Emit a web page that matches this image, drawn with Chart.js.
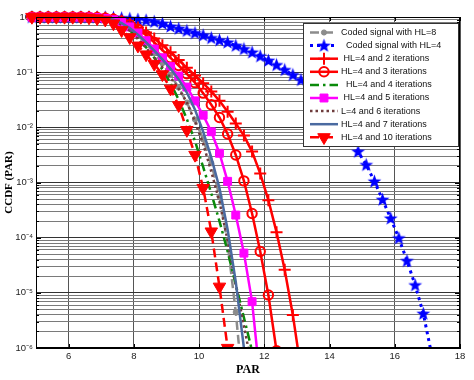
<!DOCTYPE html>
<html>
<head>
<meta charset="utf-8">
<script src="https://cdn.jsdelivr.net/npm/chart.js@4.4.0/dist/chart.umd.min.js"></script>
<style>
html,body{margin:0;padding:0;background:#fff;}
#wrap{width:474px;height:380px;}
canvas{display:block;}
</style>
</head>
<body>
<div id="wrap"><canvas id="c" width="474" height="380"></canvas></div>
<script>
// ---- data ----
const par = [4.875,5.125,5.375,5.625,5.875,6.125,6.375,6.625,6.875,7.125,7.375,7.625,7.875,8.125,8.375,8.625,8.875,9.125,9.375,9.625,9.875,10.125,10.375,10.625,10.875,11.125,11.375,11.625,11.875,12.125,12.375,12.625,12.875,13.125,13.375,13.625,13.875,14.125,14.375,14.625,14.875,15.125,15.375,15.625,15.875,16.125,16.375,16.625,16.875,17.125];

const codedHL8 = [1,1,1,1,1,1,1,1,0.99,0.955,0.891,0.794,0.631,0.468,0.331,0.224,0.145,0.0891,0.0525,0.0282,0.0138,0.00603,0.00224,5.62e-4,7.94e-5,4.47e-6,1.26e-7];
const codedHL4 = [1,1,1,1,1,1,1,1,0.995,0.989,0.977,0.955,0.933,0.902,0.871,0.822,0.759,0.676,0.617,0.562,0.513,0.468,0.417,0.380,0.347,0.302,0.263,0.229,0.195,0.162,0.135,0.110,0.0891,0.0724,0.0550,0.0398,0.0275,0.0182,0.0115,0.00676,0.00363,0.00209,0.00105,4.9e-4,2.24e-4,9.8e-5,3.8e-5,1.38e-5,4.2e-6,7.9e-7];
const iter2 = [1,1,1,1,1,1,1,1,0.99,0.966,0.923,0.851,0.759,0.646,0.525,0.407,0.309,0.229,0.166,0.120,0.0871,0.0631,0.0447,0.0302,0.0191,0.0117,0.00708,0.00363,0.00145,4.79e-4,1.26e-4,2.63e-5,3.98e-6,3.98e-7];
const iter3 = [1,1,1,1,1,1,1,0.993,0.982,0.955,0.912,0.832,0.724,0.603,0.468,0.347,0.251,0.182,0.132,0.0933,0.0646,0.0417,0.0257,0.0151,0.00759,0.00316,0.00107,2.75e-4,5.62e-5,9.12e-6,8.91e-7];
const iter4 = [1,1,1,1,1,1,1,1,0.977,0.944,0.871,0.741,0.575,0.417,0.282,0.182,0.112,0.0631,0.0316,0.0141,0.00562,0.00191,6.31e-4,2.0e-4,5.62e-5,1.41e-5,3.55e-6,8.91e-7];
const iter5 = [1,1,1,1,1,1,1,1,0.977,0.944,0.891,0.794,0.661,0.513,0.372,0.263,0.182,0.126,0.0851,0.0537,0.0302,0.0166,0.00832,0.00339,0.00105,2.57e-4,5.25e-5,6.92e-6,2.51e-7];
const iter6 = [1,1,1,1,1,1,1,1,0.973,0.933,0.851,0.724,0.562,0.398,0.275,0.186,0.123,0.0794,0.0501,0.0282,0.0126,0.00501,0.00158,4.47e-4,8.91e-5,1.41e-5,2.51e-6,4.47e-7];
const iter7 = [1,1,1,1,1,1,1,1,0.982,0.955,0.891,0.776,0.631,0.479,0.347,0.245,0.170,0.115,0.0741,0.0427,0.0209,0.00832,0.00282,7.94e-4,1.41e-4,1.58e-5,1.0e-6];
const iter10 = [1,1,1,1,1,1,1,0.977,0.944,0.891,0.759,0.575,0.427,0.302,0.209,0.141,0.0912,0.0501,0.0251,0.00891,0.00316,7.94e-4,1.29e-4,1.29e-5,1.0e-6];

const seriesLabels = ['Coded signal with HL=8','  Coded signal with HL=4',' HL=4 and 2 iterations','HL=4 and 3 iterations','  HL=4 and 4 iterations',' HL=4 and 5 iterations','L=4 and 6 iterations','HL=4 and 7 iterations','HL=4 and 10 iterations'];
const xTicks = [6,8,10,12,14,16,18];
const yDecades = [1e-6,1e-5,1e-4,1e-3,1e-2,1e-1,1];
const yTickLabels = ['10\u207B\u2076','10\u207B\u2075','10\u207B\u2074','10\u207B\u00B3','10\u207B\u00B2','10\u207B\u00B9','10\u2070'];

// ---- helpers ----
function pts(series){ return series.map((v,k)=>({x:par[k], y:v})); }

// filled five-point star image for the HL=4 markers
const star = document.createElement('canvas');
star.width = 15; star.height = 15;
(function(){
  const c = star.getContext('2d');
  c.fillStyle = '#0000ff';
  c.beginPath();
  for (let i=0;i<10;i++){
    const r = i%2===0 ? 7.3 : 3.0;
    const a = -Math.PI/2 + i*Math.PI/5;
    const px = 7.5 + r*Math.cos(a), py = 7.9 + r*Math.sin(a);
    if (i===0) c.moveTo(px,py); else c.lineTo(px,py);
  }
  c.closePath(); c.fill();
})();

const RED = '#ff0000';
const datasets = [
  {label:seriesLabels[0], data:pts(codedHL8), borderColor:'#8c8c8c', borderWidth:2.5, borderDash:[9,5],
   pointStyle:'circle', pointRadius:2.6, pointBackgroundColor:'#8c8c8c', pointBorderColor:'#8c8c8c', pointBorderWidth:1},
  {label:seriesLabels[1], data:pts(codedHL4), borderColor:'#0000ff', borderWidth:3, borderDash:[3,4],
   pointStyle:star, pointRadius:7, pointBackgroundColor:'#0000ff', pointBorderColor:'#0000ff', pointBorderWidth:0},
  {label:seriesLabels[2], data:pts(iter2), borderColor:RED, borderWidth:2.5, borderDash:[],
   pointStyle:'cross', pointRadius:6, pointBackgroundColor:RED, pointBorderColor:RED, pointBorderWidth:2},
  {label:seriesLabels[3], data:pts(iter3), borderColor:RED, borderWidth:2.5, borderDash:[],
   pointStyle:'circle', pointRadius:4.7, pointBackgroundColor:'rgba(0,0,0,0)', pointBorderColor:RED, pointBorderWidth:2},
  {label:seriesLabels[4], data:pts(iter4), borderColor:'#0a8a0a', borderWidth:2.5, borderDash:[9,4,2.5,4],
   pointStyle:'circle', pointRadius:0, pointBackgroundColor:'#0a8a0a', pointBorderColor:'#0a8a0a', pointBorderWidth:0},
  {label:seriesLabels[5], data:pts(iter5), borderColor:'#ff00ff', borderWidth:2.5, borderDash:[],
   pointStyle:'rect', pointRadius:5.6, pointBackgroundColor:'#ff00ff', pointBorderColor:'#ff00ff', pointBorderWidth:1},
  {label:seriesLabels[6], data:pts(iter6), borderColor:'#6e3c3c', borderWidth:2.5, borderDash:[2.5,3],
   pointStyle:'circle', pointRadius:0, pointBackgroundColor:'#6e3c3c', pointBorderColor:'#6e3c3c', pointBorderWidth:0},
  {label:seriesLabels[7], data:pts(iter7), borderColor:'#4a6aa0', borderWidth:2.5, borderDash:[],
   pointStyle:'circle', pointRadius:0, pointBackgroundColor:'#4a6aa0', pointBorderColor:'#4a6aa0', pointBorderWidth:0},
  {label:seriesLabels[8], data:pts(iter10), borderColor:RED, borderWidth:2.5, borderDash:[9,5],
   pointStyle:'triangle', pointRotation:180, pointRadius:7.2, pointBackgroundColor:RED, pointBorderColor:RED, pointBorderWidth:1}
];
datasets.forEach((d,i)=>{
  d.order = datasets.length-1-i;
  d.fill = false;
  d.tension = 0;
  d.clip = {left:12, top:12, right:0, bottom:0};
  d.pointHoverRadius = d.pointRadius;
});

function isDecade(v){ return yDecades.some(d=>Math.abs(d-v)/d < 1e-6); }

const frame = {
  id:'frame',
  afterDatasetsDraw(chart){
    const ctx = chart.ctx, a = chart.chartArea;
    const xs = chart.scales.x, ys = chart.scales.y;
    ctx.save();
    ctx.setLineDash([]);
    ctx.strokeStyle = '#000'; ctx.lineWidth = 1;
    ctx.strokeRect(Math.round(a.left)+0.5, Math.round(a.top)+0.5, Math.round(a.right-a.left)-1, Math.round(a.bottom-a.top)-1);
    ctx.beginPath();
    xTicks.forEach(v=>{
      const px = Math.round(xs.getPixelForValue(v))+0.5;
      ctx.moveTo(px, a.bottom); ctx.lineTo(px, a.bottom-4);
      ctx.moveTo(px, a.top); ctx.lineTo(px, a.top+4);
    });
    ys.ticks.forEach(t=>{
      const py = Math.round(ys.getPixelForValue(t.value))+0.5;
      const len = isDecade(t.value) ? 5 : 3;
      ctx.moveTo(a.left, py); ctx.lineTo(a.left+len, py);
      ctx.moveTo(a.right, py); ctx.lineTo(a.right-len, py);
    });
    ctx.stroke();

    // legend box
    const x0 = 303, y0 = 23, w = 155, h = 123;
    ctx.fillStyle = '#fff';
    ctx.fillRect(x0, y0, w, h);
    ctx.strokeStyle = '#333'; ctx.lineWidth = 1;
    ctx.strokeRect(x0+0.5, y0+0.5, w, h);
    chart.data.datasets.forEach((ds,i)=>{
      const cy = 32.5 + i*13.1;
      ctx.save();
      ctx.setLineDash(ds.borderDash);
      ctx.strokeStyle = ds.borderColor; ctx.lineWidth = ds.borderWidth;
      ctx.beginPath(); ctx.moveTo(310, cy); ctx.lineTo(338, cy); ctx.stroke();
      ctx.setLineDash([]);
      if (ds.pointRadius > 0){
        ctx.fillStyle = ds.pointBackgroundColor;
        ctx.strokeStyle = ds.pointBorderColor;
        ctx.lineWidth = ds.pointBorderWidth;
        Chart.helpers.drawPoint(ctx, {pointStyle:ds.pointStyle, rotation:ds.pointRotation||0, radius:ds.pointRadius, borderWidth:ds.pointBorderWidth}, 324, cy);
      }
      ctx.restore();
      ctx.fillStyle = '#111';
      ctx.font = '9px "Liberation Sans", Arial, sans-serif';
      ctx.textBaseline = 'middle'; ctx.textAlign = 'left';
      ctx.fillText(ds.label, 341, cy);
    });
    ctx.restore();
  }
};

new Chart(document.getElementById('c'), {
  type:'line',
  data:{datasets},
  plugins:[frame],
  options:{
    responsive:false,
    animation:false,
    devicePixelRatio:1,
    events:[],
    layout:{padding:{top:17, right:14, left:0, bottom:0}},
    plugins:{legend:{display:false}, tooltip:{enabled:false}},
    scales:{
      x:{
        type:'linear', min:5, max:18,
        afterBuildTicks(scale){ scale.ticks = xTicks.map(v=>({value:v})); },
        afterFit(scale){ scale.height = 32; },
        ticks:{autoSkip:false, maxRotation:0, padding:3, color:'#222',
               font:{family:'"Liberation Sans", Arial, sans-serif', size:9.5},
               callback:(v)=>String(v)},
        grid:{color:'#555', lineWidth:1, drawTicks:false},
        border:{display:true, color:'#000', width:1},
        title:{display:true, text:'PAR', color:'#000', padding:{top:0,bottom:3},
               font:{family:'"Liberation Serif", "Times New Roman", serif', weight:'bold', size:12}}
      },
      y:{
        type:'logarithmic', min:1e-6, max:1,
        afterBuildTicks(scale){
          const t = [];
          yDecades.forEach((d,i)=>{
            t.push({value:d, major:true});
            if (i < yDecades.length-1) for (let m=2;m<=9;m++) t.push({value:d*m});
          });
          scale.ticks = t;
        },
        afterFit(scale){ scale.width = 36; },
        ticks:{autoSkip:false, padding:3, color:'#222',
               font:{family:'"Liberation Sans", Arial, sans-serif', size:9.5},
               callback:(v)=>{ const i = yDecades.findIndex(d=>Math.abs(d-v)/d<1e-6); return i>=0 ? yTickLabels[i] : ''; }},
        grid:{drawTicks:false, lineWidth:1,
              color:(c)=> (c.tick && isDecade(c.tick.value)) ? '#333' : '#7a7a7a'},
        border:{display:true, color:'#000', width:1},
        title:{display:true, text:'CCDF (PAR)', color:'#000', padding:{top:3,bottom:0},
               font:{family:'"Liberation Serif", "Times New Roman", serif', weight:'bold', size:11}}
      }
    }
  }
});
</script>
</body>
</html>
